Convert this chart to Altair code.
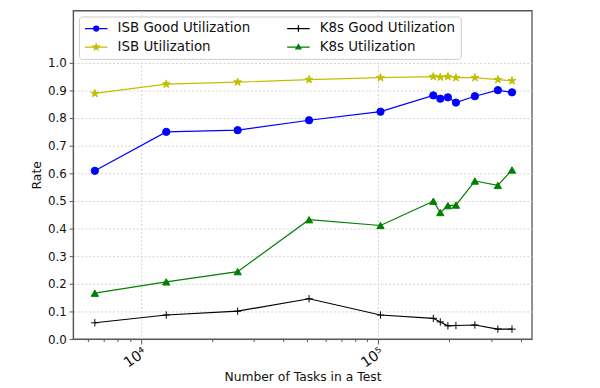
import math
import altair as alt
import pandas as pd

# ---- data ----
tasks = [6400, 12800, 25600, 51200, 102400, 171000, 183000, 197000, 213000, 256000, 320000, 367000]
isb_good = [0.609, 0.750, 0.756, 0.792, 0.823, 0.882, 0.870, 0.875, 0.856, 0.879, 0.901, 0.893]
isb_util = [0.889, 0.923, 0.930, 0.939, 0.946, 0.950, 0.948, 0.950, 0.946, 0.946, 0.939, 0.935]
k8s_good = [0.059, 0.087, 0.101, 0.146, 0.087, 0.075, 0.062, 0.048, 0.049, 0.051, 0.036, 0.036]
k8s_util = [0.166, 0.207, 0.244, 0.432, 0.411, 0.499, 0.458, 0.483, 0.485, 0.572, 0.556, 0.612]

# legend order (legend fills column by column, 2 columns)
series = ["ISB Good Utilization", "ISB Utilization", "K8s Good Utilization", "K8s Utilization"]
colors = ["#0000ff", "#bfbf00", "#000000", "#008000"]

major_ticks = [10000, 100000]
minor_ticks = [6000, 7000, 8000, 9000, 20000, 30000, 40000, 50000, 60000, 70000,
               80000, 90000, 200000, 300000, 400000]
y_ticks = [0.0, 0.1, 0.2, 0.3, 0.4, 0.5, 0.6, 0.7, 0.8, 0.9, 1.0]

values_by_series = {
    "ISB Good Utilization": isb_good,
    "ISB Utilization": isb_util,
    "K8s Good Utilization": k8s_good,
    "K8s Utilization": k8s_util,
}
rows = []
for name in series:
    for t, v in zip(tasks, values_by_series[name]):
        rows.append({"tasks": t, "rate": v, "series": name})
df = pd.DataFrame(rows)


# ---- marker shapes (geometry) ----
def star_path(cx, r):
    pts = []
    for k in range(10):
        ang = math.radians(-90 + 36 * k)
        rr = r if k % 2 == 0 else r * 0.38
        pts.append((cx + rr * math.cos(ang), rr * math.sin(ang)))
    return "M" + "L".join(f"{x:.3f},{y:.3f}" for x, y in pts) + "Z"


PLUS = "M-1,0H1M0,-1V1"
marker_shape = {
    "ISB Good Utilization": ("circle", 55),
    "ISB Utilization": (star_path(0, 1), 70),
    "K8s Good Utilization": (PLUS, 55),
    "K8s Utilization": ("triangle-up", 55),
}

LINE = "M-1,0H2.8"
c = 0.9
legend_shape = {
    "ISB Good Utilization": LINE + f"M{c-0.42},0A0.42,0.42,0,1,1,{c+0.42},0A0.42,0.42,0,1,1,{c-0.42},0Z",
    "ISB Utilization": LINE + star_path(c, 0.5),
    "K8s Good Utilization": LINE + f"M{c},-0.55V0.55",
    "K8s Utilization": LINE + f"M{c},-0.42L{c+0.42},0.3L{c-0.42},0.3Z",
}
legend_shapes = [legend_shape[s] for s in series]

FONT = "DejaVu Sans"
is_major = "datum.value == 10000 || datum.value == 100000"

LEG = alt.Legend(
    title=None, orient="top-left", offset=6, columns=2,
    symbolSize=144, symbolStrokeWidth=1.3, symbolOpacity=1,
    labelFont=FONT, labelFontSize=13.6, labelColor="#111", labelOffset=20,
    labelLimit=300,
    rowPadding=5, columnPadding=34, padding=5,
    strokeColor="#cccccc", fillColor="white", cornerRadius=3,
)

x_enc = alt.X(
    "tasks:Q",
    scale=alt.Scale(type="log", domain=[5183, 444900], nice=False),
    axis=alt.Axis(
        values=major_ticks + minor_ticks,
        labelExpr="datum.value == 10000 ? '10⁴' : (datum.value == 100000 ? '10⁵' : '')",
        labelOverlap=False,
        title="Number of Tasks in a Test",
        titleFont=FONT, titleFontSize=12.5, titleFontWeight="normal", titleColor="#111",
        titlePadding=1,
        labelFont=FONT, labelFontSize=14.5, labelColor="#111",
        labelAngle=325, labelAlign="right", labelBaseline="top", labelPadding=1,
        tickSize={"condition": {"test": is_major, "value": 5}, "value": 2.5},
        tickColor="#555",
        domainColor="#555",
        gridOpacity={"condition": {"test": is_major, "value": 1}, "value": 0},
        gridDash=[2, 2], gridColor="#d0d0d0",
    ),
)
y_enc = alt.Y(
    "rate:Q",
    scale=alt.Scale(domain=[0, 1.189], nice=False, zero=True),
    axis=alt.Axis(
        values=y_ticks, format=".1f", title="Rate",
        titleFont=FONT, titleFontSize=12.5, titleFontWeight="normal", titleColor="#111",
        titlePadding=4,
        labelFont=FONT, labelFontSize=12, labelColor="#111", labelPadding=3,
        tickSize=4, tickColor="#555", domainColor="#555",
        gridDash=[2, 2], gridColor="#d0d0d0",
    ),
)
stroke_enc = alt.Stroke("series:N", scale=alt.Scale(domain=series, range=colors), legend=LEG)
fill_enc = alt.Fill("series:N", scale=alt.Scale(domain=series, range=colors), legend=LEG)

base = alt.Chart(df).encode(x=x_enc, y=y_enc, stroke=stroke_enc)

layers = []
for name in series:
    layers.append(
        base.mark_line(strokeWidth=1.2).transform_filter(alt.datum.series == name)
    )
for name in series:
    shp, sz = marker_shape[name]
    layers.append(
        base.mark_point(filled=True, strokeWidth=1, opacity=1, shape=shp, size=sz)
        .encode(fill=fill_enc)
        .transform_filter(alt.datum.series == name)
    )

legend_layer = base.mark_point(filled=True).encode(
    fill=fill_enc,
    shape=alt.Shape("series:N", scale=alt.Scale(domain=series, range=legend_shapes), legend=LEG),
).transform_filter("false")
layers.append(legend_layer)

chart = (
    alt.layer(*layers)
    .properties(
        width=465, height=333,
        autosize=alt.AutoSizeParams(type="none"),
        padding={"left": 66, "top": 0, "right": 61, "bottom": 47},
    )
    .configure_view(stroke="#555", strokeWidth=1.3)
)

chart.save("out.html", embed_options={"renderer": "svg", "actions": False})
